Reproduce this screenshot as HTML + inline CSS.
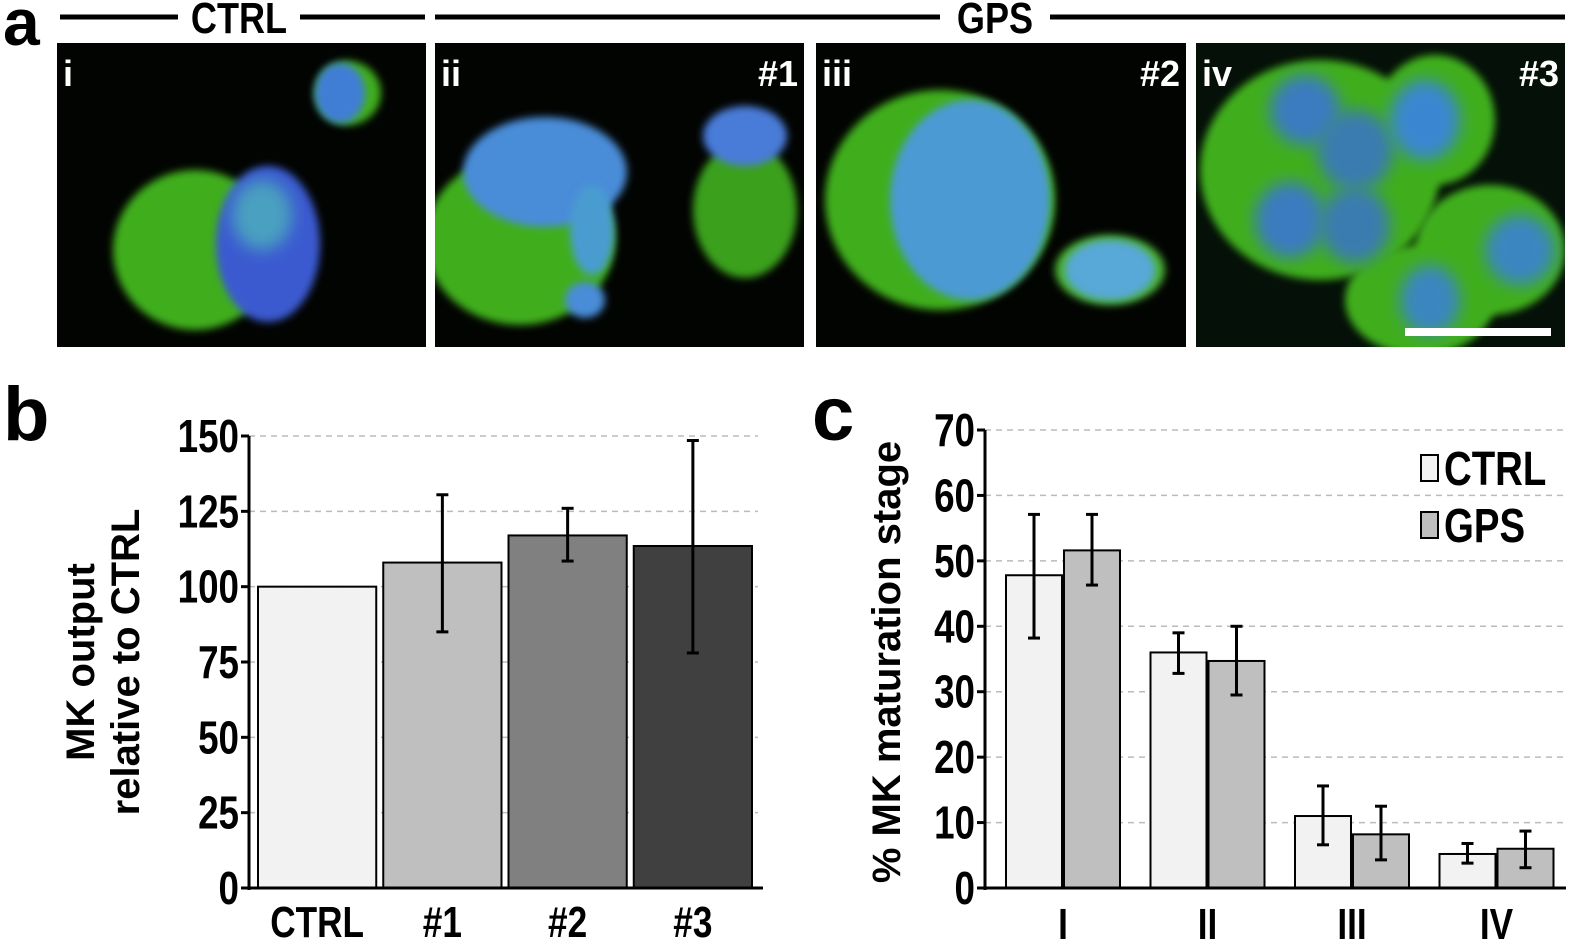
<!DOCTYPE html>
<html><head><meta charset="utf-8"><style>
html,body{margin:0;padding:0;background:#fff;}
svg{display:block;}
text{font-family:"Liberation Sans",sans-serif;font-weight:bold;}
</style></head><body>
<svg id="fig" width="1575" height="945" viewBox="0 0 1575 945" xmlns="http://www.w3.org/2000/svg">
<defs>
<filter id="bl" x="-20%" y="-20%" width="140%" height="140%"><feGaussianBlur stdDeviation="4"/></filter>
<filter id="bl2" x="-20%" y="-20%" width="140%" height="140%"><feGaussianBlur stdDeviation="8"/></filter>
<clipPath id="c1"><rect x="57" y="43" width="369" height="304"/></clipPath>
<clipPath id="c2"><rect x="435" y="43" width="369" height="304"/></clipPath>
<clipPath id="c3"><rect x="816" y="43" width="370" height="304"/></clipPath>
<clipPath id="c4"><rect x="1196" y="43" width="369" height="304"/></clipPath>
</defs>

<g>
<text x="3" y="45" font-size="66">a</text>
<line x1="60" y1="17" x2="178" y2="17" stroke="#000" stroke-width="5"/>
<text transform="translate(239,33) scale(0.82,1)" font-size="44" text-anchor="middle">CTRL</text>
<line x1="300" y1="17" x2="425" y2="17" stroke="#000" stroke-width="5"/>
<line x1="435" y1="17" x2="940" y2="17" stroke="#000" stroke-width="5"/>
<text transform="translate(995,33) scale(0.82,1)" font-size="44" text-anchor="middle">GPS</text>
<line x1="1050" y1="17" x2="1565" y2="17" stroke="#000" stroke-width="5"/>

<g clip-path="url(#c1)">
<rect x="57" y="43" width="369" height="304" fill="#020402"/>
<ellipse cx="195" cy="250" rx="82" ry="80" fill="#3fae1e" filter="url(#bl)"/>
<ellipse cx="268" cy="244" rx="52" ry="78" fill="#3a5ad0" filter="url(#bl)"/>
<ellipse cx="262" cy="215" rx="30" ry="35" fill="#4aa0c0" filter="url(#bl2)"/>
<ellipse cx="348" cy="93" rx="33" ry="32" fill="#3fae1e" filter="url(#bl)"/>
<ellipse cx="340" cy="93" rx="25" ry="30" fill="#3f7ed6" filter="url(#bl)"/>
</g>
<g clip-path="url(#c2)">
<rect x="435" y="43" width="369" height="304" fill="#020402"/>
<ellipse cx="520" cy="240" rx="95" ry="85" fill="#3fae1e" filter="url(#bl)"/>
<ellipse cx="545" cy="172" rx="82" ry="55" fill="#4a8cd8" filter="url(#bl)"/>
<ellipse cx="592" cy="230" rx="22" ry="45" fill="#4a9cd0" filter="url(#bl)"/>
<ellipse cx="585" cy="300" rx="20" ry="18" fill="#4a8cd8" filter="url(#bl)"/>
<ellipse cx="745" cy="210" rx="52" ry="68" fill="#3aa01c" filter="url(#bl)"/>
<ellipse cx="745" cy="136" rx="42" ry="30" fill="#4a7cd8" filter="url(#bl)"/>
</g>
<g clip-path="url(#c3)">
<rect x="816" y="43" width="370" height="304" fill="#020402"/>
<ellipse cx="940" cy="200" rx="115" ry="110" fill="#3fae1e" filter="url(#bl)"/>
<ellipse cx="970" cy="200" rx="80" ry="100" fill="#4c9ad4" filter="url(#bl)"/>
<ellipse cx="1110" cy="270" rx="55" ry="35" fill="#48b030" filter="url(#bl)"/>
<ellipse cx="1110" cy="270" rx="45" ry="30" fill="#58a8d8" filter="url(#bl)"/>
</g>
<g clip-path="url(#c4)">
<rect x="1196" y="43" width="369" height="304" fill="#041008"/>
<ellipse cx="1320" cy="170" rx="120" ry="110" fill="#3fae1e" filter="url(#bl)"/>
<ellipse cx="1435" cy="120" rx="60" ry="65" fill="#3fae1e" filter="url(#bl)"/>
<ellipse cx="1490" cy="250" rx="75" ry="65" fill="#3fae1e" filter="url(#bl)"/>
<ellipse cx="1420" cy="300" rx="75" ry="55" fill="#3fae1e" filter="url(#bl)"/>
<ellipse cx="1305" cy="110" rx="35" ry="35" fill="#3b7cc0" filter="url(#bl2)"/>
<ellipse cx="1355" cy="150" rx="38" ry="40" fill="#3b7cb0" filter="url(#bl2)"/>
<ellipse cx="1290" cy="220" rx="35" ry="38" fill="#3b7cc0" filter="url(#bl2)"/>
<ellipse cx="1355" cy="225" rx="35" ry="38" fill="#3b7cb0" filter="url(#bl2)"/>
<ellipse cx="1425" cy="120" rx="35" ry="40" fill="#3a86d0" filter="url(#bl2)"/>
<ellipse cx="1520" cy="250" rx="35" ry="35" fill="#3a86c0" filter="url(#bl2)"/>
<ellipse cx="1430" cy="300" rx="30" ry="35" fill="#3a86c0" filter="url(#bl2)"/>
<rect x="1405" y="328" width="146" height="8" fill="#fff"/>
</g>
<g fill="#fff" font-size="36">
<text x="63" y="86">i</text>
<text x="441" y="86">ii</text>
<text x="822" y="86">iii</text>
<text x="1202" y="86">iv</text>
<text x="798" y="86" text-anchor="end">#1</text>
<text x="1180" y="86" text-anchor="end">#2</text>
<text x="1559" y="86" text-anchor="end">#3</text>
</g>
</g>

<text x="3" y="440" font-size="76">b</text>
<text x="812" y="440" font-size="76">c</text>
<g id="chartB"></g>
<g id="chartC"></g>
</svg>
<script>
const NS="http://www.w3.org/2000/svg";
const bCats=["CTRL","#1","#2","#3"];
const bVals=[100,108,117,113.5];
const bLo=[100,85,108.5,78];
const bHi=[100,130.5,126,148.5];
const bTicks=[0,25,50,75,100,125,150];
const cCats=["I","II","III","IV"];
const cCtrl=[47.8,36,11,5.2];
const cCtrlLo=[38.2,32.8,6.6,3.8];
const cCtrlHi=[57.1,39,15.6,6.8];
const cGps=[51.6,34.7,8.2,6];
const cGpsLo=[46.3,29.5,4.3,3.1];
const cGpsHi=[57.1,40,12.5,8.7];
const cTicks=[0,10,20,30,40,50,60,70];

function mk(parent,tag,attrs){const e=document.createElementNS(NS,tag);for(const k in attrs)e.setAttribute(k,attrs[k]);parent.appendChild(e);return e;}
function ntext(g,x,y,size,anchor,str){
  const t=mk(g,"text",{transform:"translate("+x+","+y+") scale(0.8,1)","font-size":size,"text-anchor":anchor});
  t.textContent=str;return t;
}
function errbar(g,x,y1,y2,name){
  const l=mk(g,"line",{x1:x,x2:x,y1:y1,y2:y2,stroke:"#000","stroke-width":3});
  
  
  mk(g,"line",{x1:x-6,x2:x+6,y1:y1,y2:y1,stroke:"#000","stroke-width":3});
  mk(g,"line",{x1:x-6,x2:x+6,y1:y2,y2:y2,stroke:"#000","stroke-width":3});
}

(function(){
  const g=document.getElementById("chartB");
  const x0=249,x1=758,y0=888,max=150,yTop=436;
  const y=v=>y0-(v/max)*(y0-yTop);
  bTicks.forEach(t=>{
    if(t>0){const gl=mk(g,"line",{x1:x0,x2:x1,y1:y(t),y2:y(t),stroke:"#bbb","stroke-width":1.5,"stroke-dasharray":"6,5"});
    
    }
    mk(g,"line",{x1:x0-8,x2:x0,y1:y(t),y2:y(t),stroke:"#000","stroke-width":3});
    const tx=ntext(g,x0-10,y(t)+16,46,"end",String(t));
    
    
  });
  const fills=["#f2f2f2","#bfbfbf","#808080","#404040"];
  const slot=(x1-x0-8)/bCats.length, bw=slot-7;
  bCats.forEach((c,i)=>{
    const bx=x0+9+i*slot;
    const r=mk(g,"rect",{x:bx,y:y(bVals[i]),width:bw,height:y0-y(bVals[i]),fill:fills[i],stroke:"#000","stroke-width":2});
    
    
    if(bHi[i]!==bLo[i]) errbar(g,bx+bw/2,y(bHi[i]),y(bLo[i]),'bar-'+i);
    const tx=ntext(g,bx+bw/2,937,44,"middle",c);
    
    
  });
  mk(g,"line",{x1:x0,x2:x0,y1:yTop,y2:y0+2,stroke:"#000","stroke-width":3});
  mk(g,"line",{x1:x0-8,x2:x1+5,y1:y0,y2:y0,stroke:"#000","stroke-width":3});
  const yl=mk(g,"text",{transform:"translate(94,662) rotate(-90)","font-size":40,"text-anchor":"middle"});yl.textContent="MK output";
  
  
  const yl2=mk(g,"text",{transform:"translate(139,662) rotate(-90)","font-size":40,"text-anchor":"middle"});yl2.textContent="relative to CTRL";
  
  
})();

(function(){
  const g=document.getElementById("chartC");
  const x0=985,x1=1566,y0=888,max=70,yTop=430;
  const y=v=>y0-(v/max)*(y0-yTop);
  cTicks.forEach(t=>{
    if(t>0){const gl=mk(g,"line",{x1:x0,x2:x1,y1:y(t),y2:y(t),stroke:"#bbb","stroke-width":1.5,"stroke-dasharray":"6,5"});
    
    }
    mk(g,"line",{x1:x0-8,x2:x0,y1:y(t),y2:y(t),stroke:"#000","stroke-width":3});
    const tx=ntext(g,x0-10,y(t)+16,46,"end",String(t));
    
    
  });
  const slot=144.5, bw=56;
  cCats.forEach((c,i)=>{
    const bx=x0+21+i*slot;
    const r1=mk(g,"rect",{x:bx,y:y(cCtrl[i]),width:bw,height:y0-y(cCtrl[i]),fill:"#f2f2f2",stroke:"#000","stroke-width":2});
    
    
    const r2=mk(g,"rect",{x:bx+bw+2,y:y(cGps[i]),width:bw,height:y0-y(cGps[i]),fill:"#bfbfbf",stroke:"#000","stroke-width":2});
    
    
    errbar(g,bx+bw/2,y(cCtrlHi[i]),y(cCtrlLo[i]),'ctrl-'+i);
    errbar(g,bx+bw+2+bw/2,y(cGpsHi[i]),y(cGpsLo[i]),'gps-'+i);
    const tx=ntext(g,bx+bw+1,939,44,"middle",c);
    
    
  });
  mk(g,"line",{x1:x0,x2:x0,y1:yTop,y2:y0+2,stroke:"#000","stroke-width":3});
  mk(g,"line",{x1:x0-8,x2:x1,y1:y0,y2:y0,stroke:"#000","stroke-width":3});
  const yl=mk(g,"text",{transform:"translate(900,662) rotate(-90)","font-size":40,"text-anchor":"middle"});yl.textContent="% MK maturation stage";
  
  
  [["CTRL","#f2f2f2",468],["GPS","#bfbfbf",525]].forEach(([n,f,ly])=>{
    const lg=mk(g,"g",{});
    
    
    mk(lg,"rect",{x:1421,y:ly-13,width:17,height:26,fill:f,stroke:"#000","stroke-width":2});
    ntext(lg,1444,ly+17,48,"start",n);
  });
})();
</script>
</body></html>
